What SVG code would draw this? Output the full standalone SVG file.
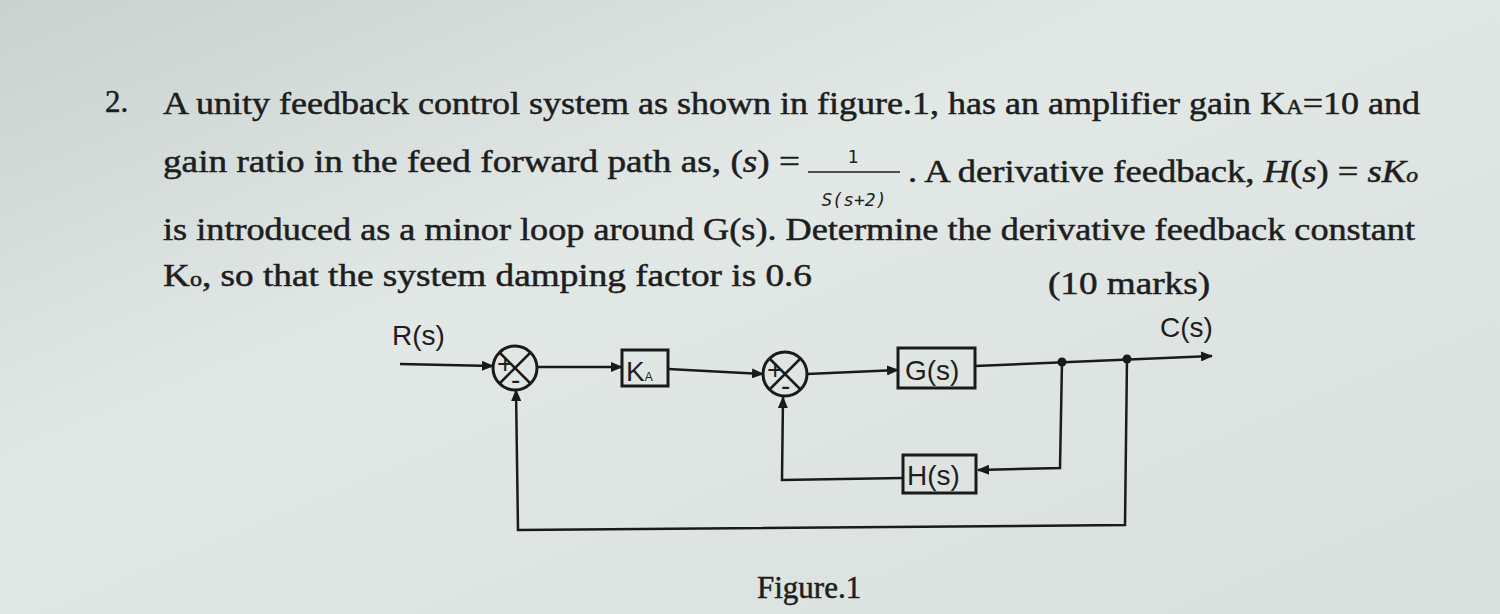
<svg xmlns="http://www.w3.org/2000/svg" width="1500" height="614" viewBox="0 0 1500 614">
<defs>
<linearGradient id="bg" x1="0" y1="0" x2="1" y2="1"><stop offset="0" stop-color="#c9d2cf"/><stop offset="0.4" stop-color="#e2e8e5"/><stop offset="1" stop-color="#d8dfdc"/></linearGradient>
<marker id="ar" markerWidth="12" markerHeight="10" refX="11" refY="5" orient="auto" markerUnits="userSpaceOnUse"><path d="M0,0 L12,5 L0,10 z" fill="#1a1a1a"/></marker>
</defs>
<style>
.t{font-family:"Liberation Serif",serif;font-size:31px;fill:#1e1e1e;stroke:#1e1e1e;stroke-width:0.5}
.d{font-family:"Liberation Sans",Arial,sans-serif;font-size:28px;fill:#1e1e1e}
.l{fill:none;stroke:#1a1a1a;stroke-width:2.5}
.b{fill:none;stroke:#1a1a1a;stroke-width:3}
</style>
<rect width="1500" height="614" fill="url(#bg)"/>
<text class="t" x="105" y="112">2.</text>
<text class="t" x="163" y="114" textLength="1257" lengthAdjust="spacingAndGlyphs">A unity feedback control system as shown in figure.1, has an amplifier gain K<tspan font-size="20">A</tspan>=10 and</text>
<text class="t" x="163" y="172" textLength="637" lengthAdjust="spacingAndGlyphs">gain ratio in the feed forward path as, (<tspan font-style="italic">s</tspan>) =</text>
<text x="853" y="163" font-family="DejaVu Sans Mono,monospace" font-size="18" fill="#1e1e1e" text-anchor="middle">1</text>
<line x1="808" y1="172" x2="900" y2="172" stroke="#1e1e1e" stroke-width="1.5"/>
<text x="854" y="206" font-family="DejaVu Sans Mono,monospace" font-size="18" fill="#1e1e1e" text-anchor="middle" font-style="italic">S(s+2)</text>
<text class="t" x="908" y="182" textLength="510" lengthAdjust="spacingAndGlyphs">. A derivative feedback, <tspan font-style="italic">H</tspan>(<tspan font-style="italic">s</tspan>) = <tspan font-style="italic">sK<tspan font-size="20">o</tspan></tspan></text>
<text class="t" x="163" y="240" textLength="1252" lengthAdjust="spacingAndGlyphs">is introduced as a minor loop around G(s). Determine the derivative feedback constant</text>
<text class="t" x="163" y="286" textLength="649" lengthAdjust="spacingAndGlyphs">K<tspan font-size="20">o</tspan>, so that the system damping factor is 0.6</text>
<text class="t" x="1048" y="294" textLength="162" lengthAdjust="spacingAndGlyphs">(10 marks)</text>
<g id="connectors">
<path class="l" d="M400,364 L493,366" marker-end="url(#ar)"/>
<path class="l" d="M537,367 L622,367" marker-end="url(#ar)"/>
<path class="l" d="M668,369 L763,374" marker-end="url(#ar)"/>
<path class="l" d="M807,374 L898,370" marker-end="url(#ar)"/>
<path class="l" d="M975,366 L1212,356" marker-end="url(#ar)"/>
<path class="l" d="M1062,362 L1060,468 L978,470" marker-end="url(#ar)"/>
<path class="l" d="M903,478 L782,480 L783,397" marker-end="url(#ar)"/>
<path class="l" d="M1127,359 L1125,525 L518,530 L516,390" marker-end="url(#ar)"/>
<circle cx="1062" cy="362" r="4.5" fill="#1a1a1a"/>
<circle cx="1127" cy="359" r="4.5" fill="#1a1a1a"/>
</g>
<g id="sum1">
<circle class="b" cx="515" cy="368" r="22"/>
<path class="l" d="M500,353 L530,383 M530,353 L500,383"/>
<text class="d" x="497" y="373" font-size="13">+</text><text class="d" x="511" y="389" font-size="16">-</text>
</g>
<g id="ka"><rect class="b" x="622" y="350" width="46" height="36"/><text class="d" x="626" y="381">K<tspan font-size="12">A</tspan></text></g>
<g id="sum2">
<circle class="b" cx="785" cy="374" r="22"/>
<path class="l" d="M770,359 L800,389 M800,359 L770,389"/>
<text class="d" x="767" y="379" font-size="13">+</text><text class="d" x="781" y="395" font-size="16">-</text>
</g>
<g id="g"><rect class="b" x="898" y="348" width="77" height="40"/><text class="d" x="905" y="380">G(s)</text></g>
<g id="h"><rect class="b" x="903" y="455" width="73" height="38"/><text class="d" x="907" y="485">H(s)</text></g>
<text class="d" x="392" y="345">R(s)</text>
<text class="d" x="1160" y="337">C(s)</text>
<text class="t" x="757" y="598" font-size="24">Figure.1</text>
</svg>
